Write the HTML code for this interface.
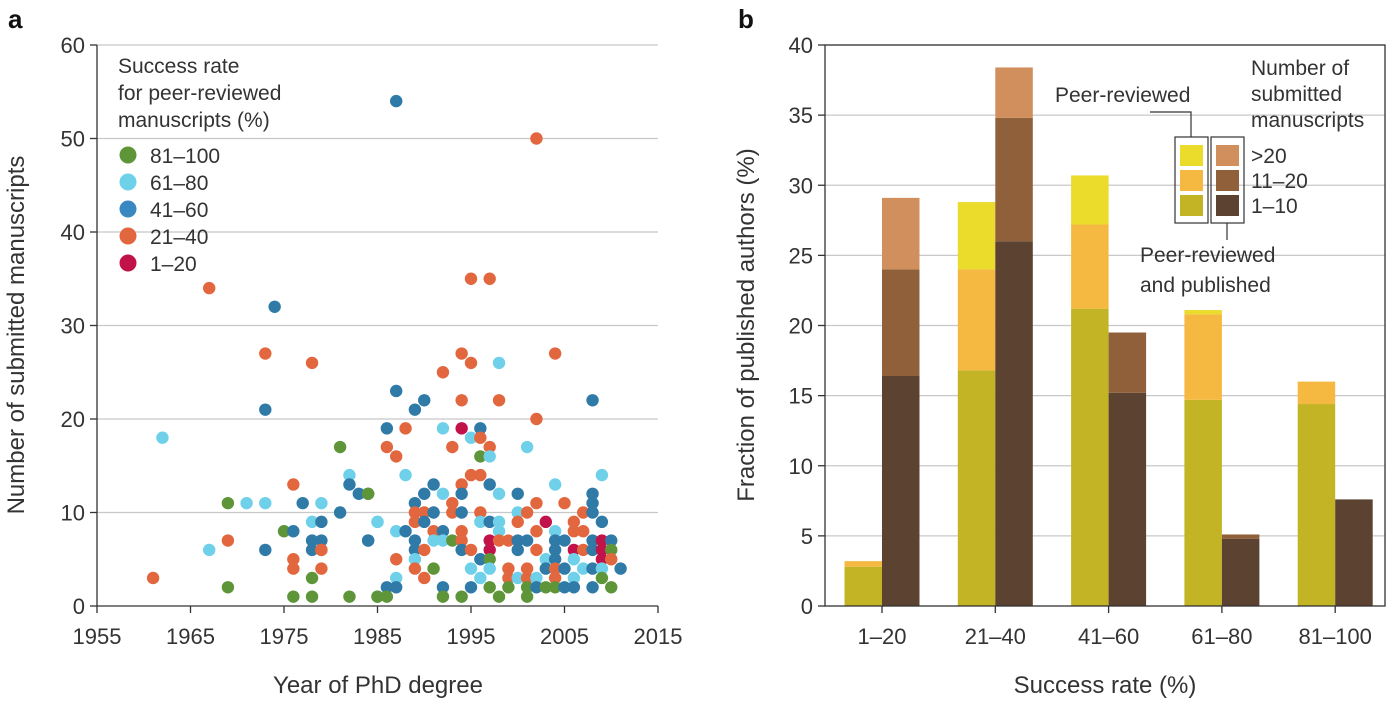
<!DOCTYPE html>
<html><head><meta charset="utf-8">
<style>
body{margin:0;background:#fff;}
svg{display:block;font-family:"Liberation Sans",sans-serif;}
</style></head>
<body>
<svg id="chart" width="1395" height="704" viewBox="0 0 1395 704"></svg>
<script>
// ---- Panel a data: [year, manuscripts, category] ; categories 0:81-100,1:61-80,2:41-60,3:21-40,4:1-20
const scatterYears=[1967,1995,1997,1987,2002,1974,1973,1978,1973,1962,1981,1982,1982,1983,1984,1976,
1969,1971,1973,1977,1979,1981,1978,1979,1985,1975,1976,1969,1978,1979,1984,1967,1973,1978,1979,1976,1976,1979,1961,1978,1969,1976,1978,1982,1985,1979,
1994,1995,1992,2004,1998,1987,1990,1989,1994,1998,2008,2002,
1986,1988,1992,1994,1996,1995,1996,1986,1993,1997,2001,1987,1996,1997,1988,1995,1996,2009,1991,1994,1997,2004,1984,
1990,1992,1994,1998,2000,2008,1989,1993,2002,2005,2008,
1989,1990,1991,1993,1994,1996,2000,2001,2007,2008,
1985,1989,1990,1996,1997,1998,2000,2003,2006,2009,
1987,1988,1991,1992,1994,1998,2002,2004,2006,2007,
1984,1989,1991,1992,1993,1994,1997,1998,1999,2000,2001,2004,2005,2008,2009,2010,
1989,1990,1994,1995,1997,2000,2002,2004,2006,2007,2008,2009,2010,
1987,1989,1996,1997,2003,2004,2006,2009,2010,
1989,1991,1995,1997,1999,2001,2003,2004,2005,2007,2008,2009,2011,
1987,1990,1996,1999,2000,2001,2002,2004,2006,2009,
1986,1987,1992,1995,1997,1999,2001,2002,2003,2004,2005,2006,2008,2010,
1985,1986,1992,1994,1998,2001];
const scatterValues=[34,35,35,54,50,32,27,26,21,18,17,14,13,12,12,13,
11,11,11,11,11,10,9,9,9,8,8,7,7,7,7,6,6,6,6,5,4,4,3,3,2,1,1,1,1,6,
27,26,25,27,26,23,22,21,22,22,22,20,
19,19,19,19,19,18,18,17,17,17,17,16,16,16,14,14,14,14,13,13,13,13,12,
12,12,12,12,12,12,11,11,11,11,11,
10,10,10,10,10,10,10,10,10,10,
9,9,9,9,9,9,9,9,9,9,
8,8,8,8,8,8,8,8,8,8,
7,7,7,7,7,7,7,7,7,7,7,7,7,7,7,7,
6,6,6,6,6,6,6,6,6,6,6,6,6,
5,5,5,5,5,5,5,5,5,
4,4,4,4,4,4,4,4,4,4,4,4,4,
3,3,3,3,3,3,3,3,3,3,
2,2,2,2,2,2,2,2,2,2,2,2,2,2,
1,1,1,1,1,1];
const scatterCats=[3,3,3,2,3,2,3,3,2,1,0,1,2,2,0,3,
0,1,1,2,1,2,1,2,1,0,2,3,2,2,2,1,2,2,3,3,3,3,3,0,0,0,0,0,0,3,
3,3,3,3,1,2,2,2,3,3,2,3,
2,3,1,4,2,1,3,3,3,3,1,3,0,1,1,3,3,1,2,3,2,1,0,
2,1,2,1,2,2,2,3,3,3,2,
3,3,2,3,2,3,1,3,3,2,
1,3,2,1,2,1,3,4,3,2,
1,2,3,2,3,1,3,1,3,3,
2,2,1,1,0,3,4,3,3,2,2,2,2,2,4,2,
2,3,2,3,4,2,3,2,4,3,2,4,0,
3,1,2,0,1,2,1,4,3,
3,0,1,1,3,3,2,3,2,1,2,1,2,
1,3,1,3,1,3,1,3,1,0,
2,2,2,2,0,0,0,2,0,0,2,2,2,0,
0,0,0,0,0,0];
const catColors=["#5e9538","#6fd0ea","#2f7aa7","#e2673f","#c2124a"];
const legendLabels=["81–100","61–80","41–60","21–40","1–20"];
const legendColors=["#5e9538","#6fd0ea","#3a88c2","#e2673f","#c2124a"];
const aYTicks=[0,10,20,30,40,50,60];
const aXTicks=[1955,1965,1975,1985,1995,2005,2015];

// ---- Panel b data
const bCategories=["1–20","21–40","41–60","61–80","81–100"];
const prLow=[2.8,16.8,21.2,14.7,14.4];   // 1-10
const prMid=[0.4,7.2,6.0,6.1,1.6];       // 11-20
const prHigh=[0,4.8,3.5,0.3,0];          // >20
const pubLow=[16.4,26.0,15.2,4.8,7.6];
const pubMid=[7.6,8.8,4.3,0.3,0];
const pubHigh=[5.1,3.6,0,0,0];
const bYTicks=[0,5,10,15,20,25,30,35,40];

const NS="http://www.w3.org/2000/svg";
const svg=document.getElementById('chart');
function mk(tag,attrs,parent,text){const e=document.createElementNS(NS,tag);for(const k in attrs)e.setAttribute(k,attrs[k]);if(text!==undefined)e.textContent=text;(parent||svg).appendChild(e);return e;}

// ===== Panel a =====
const ax0=97,ax1=658,ay0=606,ay1=45;
const xA=v=>ax0+(v-1955)/60*(ax1-ax0);
const yA=v=>ay0-(v/60)*(ay0-ay1);
const ga=mk('g',{});


let t=mk('text',{x:8,y:28,'font-size':26,'font-weight':'bold',fill:'#111'},ga,'a');

aYTicks.forEach(v=>{
  if(v>0){const l=mk('line',{x1:ax0,x2:ax1,y1:yA(v),y2:yA(v),stroke:'#c8c8c8','stroke-width':1.3},ga);
  }
  const tk=mk('line',{x1:ax0-7,x2:ax0,y1:yA(v),y2:yA(v),stroke:'#333','stroke-width':1.3},ga);
  
  const tl=mk('text',{x:ax0-12,y:yA(v)+8,'font-size':22,'text-anchor':'end',fill:'#333'},ga,String(v));
  
});
aXTicks.forEach(v=>{
  const tk=mk('line',{x1:xA(v),x2:xA(v),y1:ay0,y2:ay0+7,stroke:'#333','stroke-width':1.3},ga);
  
  const tl=mk('text',{x:xA(v),y:ay0+38,'font-size':22,'text-anchor':'middle',fill:'#333'},ga,String(v));
  
});
let axl=mk('line',{x1:ax0,x2:ax0,y1:ay1,y2:ay0,stroke:'#333','stroke-width':1.3},ga);

axl=mk('line',{x1:ax0,x2:ax1,y1:ay0,y2:ay0,stroke:'#333','stroke-width':1.3},ga);

t=mk('text',{x:378,y:693,'font-size':24,'text-anchor':'middle',fill:'#333'},ga,'Year of PhD degree');

t=mk('text',{x:0,y:0,'font-size':24,'text-anchor':'middle',fill:'#333',transform:'translate(24,335) rotate(-90)'},ga,'Number of submitted manuscripts');

scatterYears.forEach((yr,i)=>{
  const c=mk('circle',{cx:xA(yr),cy:yA(scatterValues[i]),r:6.2,fill:catColors[scatterCats[i]]},ga);
  
  
});
// legend a
const lg=mk('g',{},ga);

['Success rate','for peer-reviewed','manuscripts (%)'].forEach((s,i)=>{
  const e=mk('text',{x:118,y:73+i*27,'font-size':21,fill:'#333'},lg,s);
  
});
legendLabels.forEach((s,i)=>{
  const cy=155+i*27;
  const c=mk('circle',{cx:128,cy:cy,r:8.5,fill:legendColors[i]},lg);
  
  const e=mk('text',{x:150,y:cy+8,'font-size':21,fill:'#333'},lg,s);
  
});

// ===== Panel b =====
const bx0=825,bx1=1385,by0=606,by1=45;
const yB=v=>by0-(v/40)*(by0-by1);
const groupC=i=>882+i*113.3;
const bw=37.5;
const gb=mk('g',{});

t=mk('text',{x:738,y:28,'font-size':26,'font-weight':'bold',fill:'#111'},gb,'b');

bYTicks.forEach(v=>{
  if(v>0){const l=mk('line',{x1:bx0,x2:bx1,y1:yB(v),y2:yB(v),stroke:'#c8c8c8','stroke-width':1.3},gb);
  }
  const tk=mk('line',{x1:bx0-7,x2:bx0,y1:yB(v),y2:yB(v),stroke:'#333','stroke-width':1.3},gb);
  
  const tl=mk('text',{x:bx0-12,y:yB(v)+8,'font-size':22,'text-anchor':'end',fill:'#333'},gb,String(v));
  
});
function stack(x,vals,cols,name){
  let base=0;
  vals.forEach((v,k)=>{
    if(v<=0)return;
    const r=mk('rect',{x:x,y:yB(base+v),width:bw,height:yB(base)-yB(base+v),fill:cols[k]},gb);
    
    
    base+=v;
  });
}
bCategories.forEach((c,i)=>{
  stack(groupC(i)-bw,[prLow[i],prMid[i],prHigh[i]],['#c3b425','#f5b840','#ebdb2a'],'bar-peer-reviewed');
  stack(groupC(i),[pubLow[i],pubMid[i],pubHigh[i]],['#5c4230','#8f6039','#d08f5c'],'bar-published');
  const tk=mk('line',{x1:groupC(i),x2:groupC(i),y1:by0,y2:by0+7,stroke:'#333','stroke-width':1.3},gb);
  
  const tl=mk('text',{x:groupC(i),y:by0+38,'font-size':22,'text-anchor':'middle',fill:'#333'},gb,c);
  
});
axl=mk('rect',{x:bx0,y:by1,width:bx1-bx0,height:by0-by1,fill:'none',stroke:'#333','stroke-width':1.3},gb);

t=mk('text',{x:1105,y:693,'font-size':24,'text-anchor':'middle',fill:'#333'},gb,'Success rate (%)');

t=mk('text',{x:0,y:0,'font-size':24,'text-anchor':'middle',fill:'#333',transform:'translate(754,325) rotate(-90)'},gb,'Fraction of published authors (%)');

// legend b
const lb=mk('g',{},gb);

['Number of','submitted','manuscripts'].forEach((s,i)=>{
  const e=mk('text',{x:1251,y:75+i*26,'font-size':21,fill:'#333'},lb,s);
  
});
t=mk('text',{x:1055,y:102,'font-size':21,fill:'#333'},lb,'Peer-reviewed');

const swL=['#ebdb2a','#f5b840','#c3b425'],swR=['#d08f5c','#8f6039','#5c4230'],swT=['>20','11–20','1–10'];
swT.forEach((s,i)=>{
  const y=145+i*25;
  let r=mk('rect',{x:1180,y:y,width:23,height:21,fill:swL[i]},lb);
  
  r=mk('rect',{x:1216,y:y,width:23,height:21,fill:swR[i]},lb);
  
  const e=mk('text',{x:1251,y:y+18,'font-size':21,fill:'#333'},lb,s);
  
});
let bx=mk('rect',{x:1175,y:137,width:33,height:86,fill:'none',stroke:'#333','stroke-width':1.2},lb);

bx=mk('rect',{x:1211,y:137,width:33,height:86,fill:'none',stroke:'#333','stroke-width':1.2},lb);

bx=mk('path',{d:'M1150 112 L1191 112 L1191 137',fill:'none',stroke:'#333','stroke-width':1.2},lb);

bx=mk('path',{d:'M1227 223 L1227 240',fill:'none',stroke:'#333','stroke-width':1.2},lb);

t=mk('text',{x:1140,y:262,'font-size':21,fill:'#333'},lb,'Peer-reviewed');

t=mk('text',{x:1140,y:292,'font-size':21,fill:'#333'},lb,'and published');

</script>
</body></html>
